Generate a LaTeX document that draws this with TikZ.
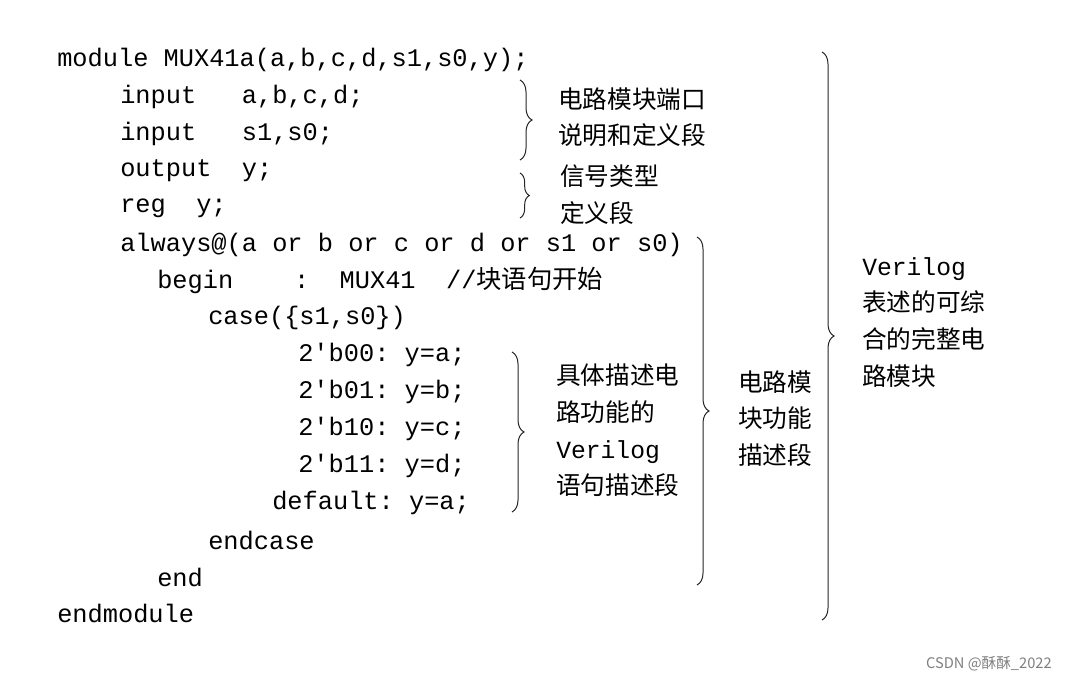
\documentclass[tikz,border=0pt]{standalone}
\usepackage{fontspec}
\setmonofont{Liberation Mono}
\newfontfamily\cjk{Noto Sans CJK SC}
\usetikzlibrary{decorations.pathreplacing}
\begin{document}
\begin{tikzpicture}[x=0.75pt,y=-0.75pt,
  code/.style={anchor=west,inner sep=0,font=\ttfamily\fontsize{19}{22}\selectfont},
  lab/.style={anchor=north west,inner sep=0,align=left,font=\cjk\fontsize{18.5}{27.5}\selectfont},
  brc/.style={decorate,decoration={brace,amplitude=9pt},line width=0.75pt,draw=black!85}]
\useasboundingbox[fill=white] (0,0) rectangle (1066,682);
\node[code] (l1) at (57,60) {module MUX41a(a,b,c,d,s1,s0,y);};
\node[code] (l2) at (120,97) {input\ \ \ a,b,c,d;};
\node[code] (l3) at (120,134) {input\ \ \ s1,s0;};
\node[code] (l4) at (120,171) {output\ \ y;};
\node[code] (l5) at (120,208) {reg\ \ y;};
\node[code] (l6) at (120,245) {always@(a or b or c or d or s1 or s0)};
\node[code] (l7) at (157,280) {begin\ \ \ \ :\ \ MUX41\ \ //{\cjk 块语句开始}};
\node[code] (l8) at (208,318) {case(\{s1,s0\})};
\node[code] (l9) at (298,355) {2'b00: y=a;};
\node[code] (l10) at (298,392) {2'b01: y=b;};
\node[code] (l11) at (298,429) {2'b10: y=c;};
\node[code] (l12) at (298,466) {2'b11: y=d;};
\node[code] (l13) at (272,503) {default: y=a;};
\node[code] (l14) at (208,540) {endcase};
\node[code] (l15) at (157,577) {end};
\node[code] (l16) at (57,613) {endmodule};
% braces
\coordinate (b1t) at (520,80); \coordinate (b1b) at (520,160);
\coordinate (b2t) at (520,173); \coordinate (b2b) at (520,218);
\coordinate (b3t) at (697,237); \coordinate (b3b) at (697,585);
\coordinate (b4t) at (512,352); \coordinate (b4b) at (512,512);
\coordinate (b5t) at (822,52); \coordinate (b5b) at (822,620);
\draw[brc] (b1t) -- (b1b);
\draw[brc,decoration={amplitude=7pt}] (b2t) -- (b2b);
\draw[brc] (b3t) -- (b3b);
\draw[brc] (b4t) -- (b4b);
\draw[brc] (b5t) -- (b5b);
% labels
\node[lab] (t1) at (558,87) {电路模块端口\\说明和定义段};
\node[lab] (t2) at (560,165) {信号类型\\定义段};
\node[lab] (t3) at (556,364) {具体描述电\\路功能的\\{\ttfamily Verilog}\\语句描述段};
\node[lab] (t4) at (738,370) {电路模\\块功能\\描述段};
\node[lab] (t5) at (862,257) {{\ttfamily Verilog}\\表述的可综\\合的完整电\\路模块};
\node[anchor=east,inner sep=0,text=gray,font=\cjk\fontsize{11}{13}\selectfont] (wm) at (1052,664) {CSDN @酥酥\_2022};
\end{tikzpicture}
\end{document}
